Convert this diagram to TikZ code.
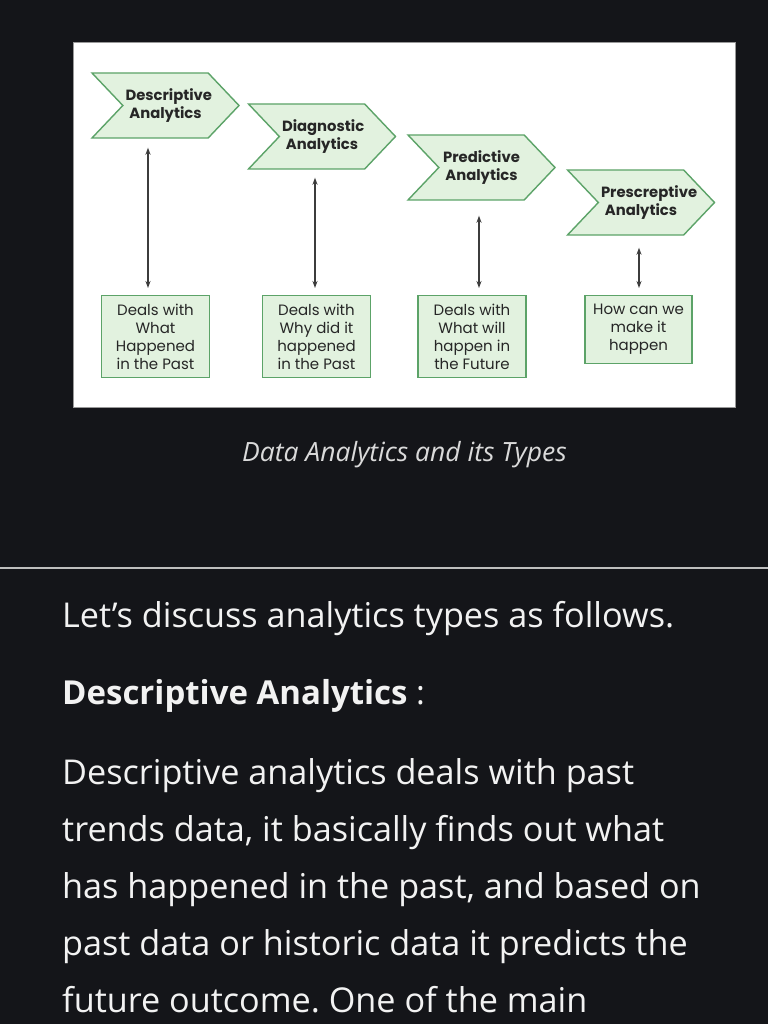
\documentclass[tikz,border=0pt]{standalone}
\usepackage{fontspec}
\setmainfont{Open Sans}
\newfontfamily\diagfont{Poppins}
\newfontfamily\capfont{Open Sans}
\usetikzlibrary{arrows.meta,positioning,shapes.symbols}
\frenchspacing
\definecolor{pagedark}{RGB}{20,21,25}
\definecolor{chevfill}{RGB}{226,242,223}
\definecolor{chevline}{RGB}{92,163,104}
\definecolor{arrowgray}{RGB}{60,60,60}
\definecolor{softwhite}{RGB}{242,242,242}
\definecolor{rulegray}{RGB}{190,190,190}
\tikzset{
  chevron/.style={
    signal,
    signal to=east,
    signal from=west,
    signal pointer angle=93,
    draw=chevline,
    line width=1.4pt,
    fill=chevfill,
    minimum width=147pt,
    minimum height=65pt,
    inner sep=0pt,
    text width=80pt,
    align=center,
    text=black!85,
    font=\diagfont\bfseries\fontsize{14.8}{18}\selectfont
  },
  infobox/.style={
    draw=chevline,
    line width=1.4pt,
    fill=chevfill,
    minimum width=108pt,
    inner sep=0pt,
    align=center,
    anchor=north,
    text=black!85,
    font=\diagfont\fontsize{15}{18}\selectfont
  },
  both/.style={
    {Stealth[length=7pt,width=5pt]}-{Stealth[length=7pt,width=5pt]},
    line width=1.3pt,
    arrowgray
  },
  body/.style={
    anchor=base west,
    inner sep=0pt,
    text=softwhite,
    font=\fontsize{34.2}{40}\selectfont
  }
}

\begin{document}
\begin{tikzpicture}[x=1pt,y=-1pt]
\useasboundingbox (0,0) rectangle (768,1024);
\fill[pagedark] (0,0) rectangle (768,1024);
\filldraw[fill=white, draw=black!40, line width=0.8pt] (73,42) rectangle (735,407);

% the four kinds
\node[chevron] (desc) at (165.5,105.5) {Descriptive\\Analytics};
\node[chevron] (diag) at (322,136.5) {Diagnostic\\Analytics};
\node[chevron] (pred) at (481.5,167.5) {Predictive\\Analytics};
\node[chevron] (presc) at (641,202.5) {Prescreptive\\Analytics};

\node[infobox, minimum height=82pt] (b1) at (155.5,295) {Deals with\\What\\Happened\\in the Past};
\node[infobox, minimum height=82pt] (b2) at (316.5,295) {Deals with\\Why did it\\happened\\in the Past};
\node[infobox, minimum height=82pt] (b3) at (472,295) {Deals with\\What will\\happen in\\the Future};
\node[infobox, minimum height=68pt, minimum width=107pt] (b4) at (638.5,295) {How can we\\make it\\happen};

\draw[both] ([xshift=-17.5,yshift=-9]desc.south) -- ([xshift=-7.5,yshift=7]b1.north);
\draw[both] ([xshift=-7,yshift=-8]diag.south) -- ([xshift=-1.5,yshift=7]b2.north);
\draw[both] ([xshift=-2.5,yshift=-15]pred.south) -- ([xshift=7,yshift=7]b3.north);
\draw[both] ([xshift=-2,yshift=-12]presc.south) -- ([xshift=0.5,yshift=7]b4.north);

\node[anchor=base, inner sep=0pt, text=softwhite!90!black, font=\capfont\itshape\fontsize{26.5}{30}\selectfont] (cap) at (404.5,461) {Data Analytics and its Types};

\draw[rulegray, line width=1.2pt] (0,568) -- (768,568);

% text below
\node[body] (l1) at (62,627) {Let’s discuss analytics types as follows.};
\node[body, font=\bfseries\fontsize{33}{38}\selectfont] (head) at (62,704) {Descriptive Analytics \mdseries:};
\node[body] (p1) at (62,784) {Descriptive analytics deals with past};
\node[body] (p2) at (62,841) {trends data, it basically finds out what};
\node[body] (p3) at (62,898) {has happened in the past, and based on};
\node[body] (p4) at (62,955) {past data or historic data it predicts the};
\node[body] (p5) at (62,1012) {future outcome. One of the main};
\end{tikzpicture}
\end{document}
